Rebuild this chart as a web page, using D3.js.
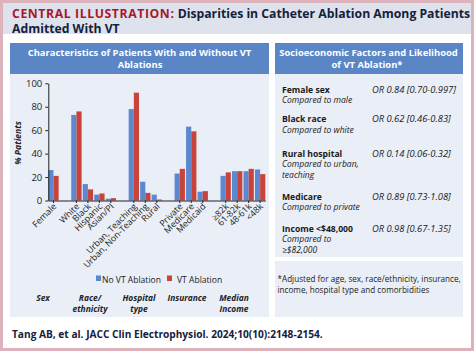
<!DOCTYPE html>
<html><head><meta charset="utf-8">
<script src="https://cdn.jsdelivr.net/npm/d3@7"></script>
<style>
html,body{margin:0;padding:0;background:#fff;}
svg{display:block;font-family:"Open Sans","Noto Sans",sans-serif;}
</style></head>
<body>
<script>
// ---- data ----
const categories = ["Female","White","Black","Hispanic","Asian/PI","Urban, Teaching","Urban, Non-Teaching","Rural","Private","Medicare","Medicaid","≥82k","61-82k","48-61k","<48k"];
const categoryGroup = ["Sex","Race","Race","Race","Race","Hosp","Hosp","Hosp","Ins","Ins","Ins","Inc","Inc","Inc","Inc"];
const noAblation = [26, 73, 14, 5, 1.5, 78, 16, 5, 23, 63, 7.5, 21, 25, 25, 26.5];
const ablation   = [21, 76, 9.5, 6, 2, 92, 6.5, 0.8, 27, 59, 8, 24, 25, 27, 22.5];
const seriesNames = ["No VT Ablation","VT Ablation"];
const yTicks = [0, 20, 40, 60, 80, 100];
const groupLabels = [["Sex"],["Race/","ethnicity"],["Hospital","type"],["Insurance"],["Median","Income"]];
const orTitles = ["Female sex","Black race","Rural hospital","Medicare","Income <$48,000"];
const orSubs = [["Compared to male"],["Compared to white"],["Compared to urban,","teaching"],["Compared to private"],["Compared to","≥$82,000"]];
const orValues = ["OR 0.84 [0.70-0.997]","OR 0.62 [0.46-0.83]","OR 0.14 [0.06-0.32]","OR 0.89 [0.73-1.08]","OR 0.98 [0.67-1.35]"];

const W = 474, H = 351;
const BLUE = "#5b88cf", RED = "#c8443b", HEAD = "#5a86c6", NAVY = "#14213d", INK = "#1a1a1a";
const svg = d3.select("body").append("svg").attr("width", W).attr("height", H);

// font size such that text s fits width len
function fit(s, size, len, weight, italic) {
  const t = svg.append("text").attr("font-size", size).text(s);
  if (weight) t.attr("font-weight", weight);
  if (italic) t.attr("font-style", "italic");
  const w = t.node().getComputedTextLength();
  t.remove();
  return Math.min(size, size * len / w);
}
function txt(x, y, s, o = {}) {
  const t = svg.append("text").attr("x", x).attr("y", y).text(s)
    .attr("font-size", o.size || 10).attr("fill", o.fill || INK);
  if (o.weight) t.attr("font-weight", o.weight);
  if (o.italic) t.attr("font-style", "italic");
  if (o.anchor) t.attr("text-anchor", o.anchor);
  return t;
}

// frame
svg.append("rect").attr("x",0).attr("y",0).attr("width",W).attr("height",H).attr("fill","#dcb3bb");
svg.append("rect").attr("x",3).attr("y",3).attr("width",W-6).attr("height",H-6).attr("fill","#ffffff");
svg.append("rect").attr("x",3).attr("y",3).attr("width",W-6).attr("height",31).attr("fill","#dee2ec");

// title
const tSize = fit("CENTRAL ILLUSTRATION: Disparities in Catheter Ablation Among Patients", 12.6, 446, 700);
const t1 = txt(12, 18, "", {size:tSize, weight:700, fill:NAVY});
t1.append("tspan").attr("fill","#a8172b").attr("letter-spacing",0.6).text("CENTRAL ILLUSTRATION:");
t1.append("tspan").text(" Disparities in Catheter Ablation Among Patients");
txt(12, 33, "Admitted With VT", {size:tSize, weight:700, fill:NAVY});

// panels
svg.append("rect").attr("x",10).attr("y",43).attr("width",259).attr("height",31).attr("fill",HEAD);
svg.append("rect").attr("x",10).attr("y",74).attr("width",259).attr("height",243).attr("fill","#e9eef7");
svg.append("rect").attr("x",275).attr("y",43).attr("width",188).attr("height",31).attr("fill",HEAD);
svg.append("rect").attr("x",275).attr("y",74).attr("width",188).attr("height",183).attr("fill","#e9eef7");
svg.append("rect").attr("x",275).attr("y",261).attr("width",188).attr("height",56).attr("fill","#e9eef7");

const hSize = Math.min(fit("Characteristics of Patients With and Without VT", 10.6, 224, 700),
                       fit("Socioeconomic Factors and Likelihood", 10.6, 181, 700));
txt(139.5, 55.5, "Characteristics of Patients With and Without VT", {size:hSize, weight:700, fill:"#fff", anchor:"middle"});
txt(140, 68, "Ablations", {size:hSize, weight:700, fill:"#fff", anchor:"middle"});
txt(368.5, 55.5, "Socioeconomic Factors and Likelihood", {size:hSize, weight:700, fill:"#fff", anchor:"middle"});
txt(367, 68, "of VT Ablation*", {size:hSize, weight:700, fill:"#fff", anchor:"middle"});

// chart
const domain = [];
categories.forEach((c,i)=>{
  if(i>0 && categoryGroup[i]!==categoryGroup[i-1]) domain.push("_gap"+i);
  domain.push(c);
});
const x = d3.scaleBand().domain(domain).range([48.3, 265.3]).paddingInner(0.1).paddingOuter(0);
const y = d3.scaleLinear().domain([0,100]).range([200.5, 83.3]);
const xs = d3.scaleBand().domain(seriesNames).range([0, x.bandwidth()]);

const g = svg.append("g");
const rows = categories.map((c,i)=>({c, v:[noAblation[i], ablation[i]]}));
g.selectAll("g.cat").data(rows).join("g").attr("class","cat").attr("transform",d=>`translate(${x(d.c)},0)`)
  .selectAll("rect").data(d=>d.v.map((v,j)=>({v,s:seriesNames[j]}))).join("rect")
  .attr("x",d=>xs(d.s)).attr("width",xs.bandwidth()).attr("y",d=>y(d.v)).attr("height",d=>y(0)-y(d.v))
  .attr("fill",d=>d.s===seriesNames[0]?BLUE:RED);

const ya = g.append("g").attr("transform","translate(48.3,0)")
  .call(d3.axisLeft(y).tickValues(yTicks).tickSize(3).tickSizeOuter(0).tickFormat(d3.format("d")));
ya.select(".domain").attr("stroke","#222");
ya.selectAll("text").attr("font-size",9.5).attr("fill","#222").attr("font-family","Open Sans");
ya.selectAll("line").attr("stroke","#222");

const xa = g.append("g").attr("transform",`translate(0,${y(0)})`)
  .call(d3.axisBottom(x).tickValues(categories).tickSize(2.5).tickSizeOuter(0));
xa.select(".domain").attr("stroke","#222");
xa.selectAll("line").attr("stroke","#222");
xa.selectAll("text").attr("font-size",8.8).attr("fill","#222").attr("font-family","Open Sans")
  .attr("text-anchor","end").attr("dy",0).attr("y",0)
  .attr("transform","translate(3.5,6.5) rotate(-45)");

svg.append("text").attr("transform","translate(20.5,143) rotate(-90)").attr("text-anchor","middle")
  .attr("font-size",8.6).attr("font-weight",700).attr("font-style","italic").attr("fill","#222").text("% Patients");

// legend
const lSize = fit(seriesNames[0], 9.6, 59);
[[96, 102, seriesNames[0], BLUE],[167, 177, seriesNames[1], RED]].forEach(([lx,tx,name,col])=>{
  svg.append("rect").attr("x",lx).attr("y",275.5).attr("width",5).attr("height",5.5).attr("fill",col);
  txt(tx, 282.5, name, {size:lSize, fill:"#222"});
});

// group labels
const groupX = [43, 90, 139, 187, 234];
groupLabels.forEach((lines,i)=>lines.forEach((l,k)=>
  txt(groupX[i], 301+k*10.5, l, {size:8.4, weight:700, italic:true, anchor:"middle", fill:"#222"})));

// OR table
const rowY = [92.5, 122, 156.5, 199.5, 231.5];
const titleSize = fit("Income <$48,000", 9.8, 71, 700);
const subSize = fit("Compared to private", 9.8, 78, null, true);
const orSize = fit("OR 0.84 [0.70-0.997]", 9.8, 84, null, true);
orTitles.forEach((tt,i)=>{
  txt(282, rowY[i], tt, {size:titleSize, weight:700});
  orSubs[i].forEach((s,k)=>txt(282, rowY[i]+10.5+k*10.8, s, {size:subSize, italic:true}));
  txt(372, rowY[i], orValues[i], {size:orSize, italic:true});
});
const fSize = fit("*Adjusted for age, sex, race/ethnicity, insurance,", 9.4, 183);
txt(277.5, 282, "*Adjusted for age, sex, race/ethnicity, insurance,", {size:fSize});
txt(277.5, 292.5, "income, hospital type and comorbidities", {size:fSize});

// citation
const cSize = fit("Tang AB, et al. JACC Clin Electrophysiol. 2024;10(10):2148-2154.", 10.8, 311, 700);
txt(12, 338, "Tang AB, et al. JACC Clin Electrophysiol. 2024;10(10):2148-2154.", {size:cSize, weight:700, fill:NAVY});
</script>
</body></html>
